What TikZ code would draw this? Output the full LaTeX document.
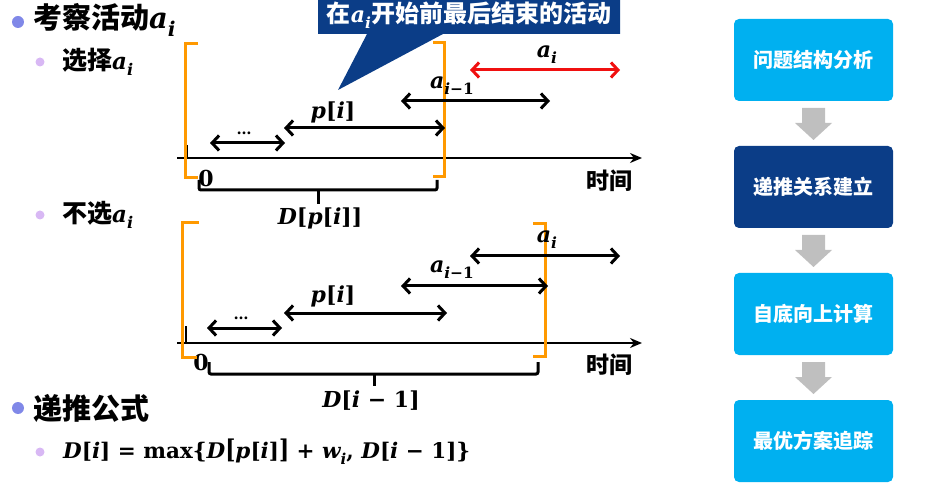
\documentclass[tikz,border=0pt]{standalone}
\usepackage{fontspec}
\newfontfamily\cjk{Noto Sans CJK SC}
\newfontfamily\mth{DejaVu Serif}
\newcommand{\mv}[1]{{\mth\bfseries\itshape #1}}
\newcommand{\mr}[1]{{\mth\bfseries #1}}
\newcommand{\sbs}[1]{\raisebox{-0.28em}{\scalebox{0.7}{#1}}}
\usetikzlibrary{arrows.meta}
\definecolor{bulA}{HTML}{8088E8}
\definecolor{bulB}{HTML}{D8B8F4}
\definecolor{orng}{HTML}{FF9900}
\definecolor{dblue}{HTML}{0B3D87}
\definecolor{lblue}{HTML}{00B0F0}
\definecolor{gry}{HTML}{BFBFBF}
\definecolor{redd}{HTML}{F01010}
\begin{document}
\begin{tikzpicture}[x=1pt,y=-1pt,
  bul/.style={circle,fill=bulA,inner sep=0pt,minimum size=12pt},
  subbul/.style={circle,fill=bulB,inner sep=0pt,minimum size=9pt},
  head/.style={anchor=west,inner sep=0pt,font=\fontsize{29}{32}\selectfont\cjk\bfseries},
  sub/.style={anchor=west,inner sep=0pt,font=\fontsize{25}{28}\selectfont\cjk\bfseries},
  lab/.style={inner sep=0pt,font=\fontsize{22}{25}\selectfont},
  ivl/.style={line width=3pt,{Straight Barb[length=7pt,width=15pt]}-{Straight Barb[length=7pt,width=15pt]}},
  axis/.style={line width=2.5pt,-{Stealth[length=12pt,width=10pt]}},
  obr/.style={draw=orng,line width=3pt},
  brc/.style={draw=black,line width=3pt,rounded corners=2pt},
  step box/.style={fill=#1,rounded corners=5pt,minimum width=159pt,minimum height=82pt,inner sep=0pt,
     text=white,font=\fontsize{20}{23}\selectfont\cjk\bfseries},
  garrow/.style={fill=gry}
]
\useasboundingbox (0,0) rectangle (943,497);

% ---- left texts
\node[bul] (b1) at (18,22) {};
\node[head] (t1) at (33,20) {考察活动\mv{a}\sbs{\mv{i}}};
\node[subbul] (s1) at (40,62) {};
\node[sub] (t2) at (62,62) {选择{\fontsize{23}{26}\selectfont\mv{a}\sbs{\mv{i}}}};
\node[subbul] (s2) at (40,215) {};
\node[sub] (t3) at (62,215) {不选{\fontsize{23}{26}\selectfont\mv{a}\sbs{\mv{i}}}};
\node[bul] (b2) at (18,408) {};
\node[head] (t4) at (33,408) {递推公式};
\node[subbul] (s3) at (40,452) {};
\node[anchor=west,inner sep=0pt,font=\fontsize{21.5}{25}\selectfont] (f1) at (63,452)
  {\mv{D}\mr{[}\mv{i}\mr{] = max\{}\mv{D}\scalebox{1}[1.2]{\mr{[}}\mv{p}\mr{[}\mv{i}\mr{]}\scalebox{1}[1.2]{\mr{]}}\mr{ + }\mv{w}\sbs{\mv{i}}\mr{, }\mv{D}\mr{[}\mv{i}\mr{ − 1]\}}};

% ---- callout
\path[fill=dblue] (318,-2) -- (620,-2) -- (620,34) -- (443,34) -- (338,90) -- (367,34) -- (318,34) -- cycle;
\node[inner sep=0pt,text=white,font=\fontsize{24}{28}\selectfont\cjk\bfseries] (call) at (469,15) {在{\fontsize{22}{26}\selectfont\mv{a}\sbs{\mv{i}}}开始前最后结束的活动};

% ---- timeline 1
\coordinate (ax1s) at (177,158); \coordinate (ax1e) at (642,158);
\draw[axis] (ax1s) -- (ax1e);
\coordinate (tk1a) at (187,145); \coordinate (tk1b) at (187,158);
\draw[line width=2.5pt] (tk1a) -- (tk1b);
\node[lab] (z1) at (206,178) {\mr{0}};
\node[inner sep=0pt,font=\fontsize{23}{26}\selectfont\cjk\bfseries] (time1) at (609,181) {时间};
\draw[obr] (198,44) -- (185,44) -- (185,178) -- (198,178);
\draw[obr] (433,43) -- (444,43) -- (444,177) -- (433,177);
\coordinate (d1a) at (210,143); \coordinate (d1b) at (285,143);
\draw[ivl] (d1a) -- (d1b);
\node[lab,font=\fontsize{15}{18}\selectfont] (dl1) at (244,133) {\mr{…}};
\coordinate (p1a) at (284,128); \coordinate (p1b) at (445,128);
\draw[ivl] (p1a) -- (p1b);
\node[lab] (pl1) at (333,112) {\mv{p}\mr{[}\mv{i}\mr{]}};
\coordinate (q1a) at (401,101); \coordinate (q1b) at (550,101);
\draw[ivl] (q1a) -- (q1b);
\node[lab] (ql1) at (452,86) {\mv{a}\sbs{\mv{i}\mr{−1}}};
\coordinate (r1a) at (470,70); \coordinate (r1b) at (620,70);
\draw[ivl,draw=redd] (r1a) -- (r1b);
\node[lab] (rl1) at (547,55) {\mv{a}\sbs{\mv{i}}};
\coordinate (br1a) at (199,180); \coordinate (br1b) at (437,180); \coordinate (br1c) at (318,190);
\draw[brc] (br1a) |- (br1c) -| (br1b);
\draw[line width=3pt] (br1c) -- ++(0,14);
\node[lab] (dp1) at (320,218) {\mv{D}\mr{[}\mv{p}\mr{[}\mv{i}\mr{]]}};

% ---- timeline 2
\coordinate (ax2s) at (177,343); \coordinate (ax2e) at (642,343);
\draw[axis] (ax2s) -- (ax2e);
\coordinate (tk2a) at (186,326); \coordinate (tk2b) at (186,343);
\draw[line width=2.5pt] (tk2a) -- (tk2b);
\node[lab] (z2) at (201,362) {\mr{0}};
\node[inner sep=0pt,font=\fontsize{23}{26}\selectfont\cjk\bfseries] (time2) at (609,365) {时间};
\draw[obr] (199,223) -- (182,223) -- (182,357) -- (197,357);
\draw[obr] (533,224) -- (545,224) -- (545,356) -- (533,356);
\coordinate (d2a) at (207,328); \coordinate (d2b) at (282,328);
\draw[ivl] (d2a) -- (d2b);
\node[lab,font=\fontsize{15}{18}\selectfont] (dl2) at (241,318) {\mr{…}};
\coordinate (p2a) at (284,313); \coordinate (p2b) at (447,313);
\draw[ivl] (p2a) -- (p2b);
\node[lab] (pl2) at (333,296) {\mv{p}\mr{[}\mv{i}\mr{]}};
\coordinate (q2a) at (401,286); \coordinate (q2b) at (548,286);
\draw[ivl] (q2a) -- (q2b);
\node[lab] (ql2) at (452,270) {\mv{a}\sbs{\mv{i}\mr{−1}}};
\coordinate (r2a) at (470,256); \coordinate (r2b) at (620,256);
\draw[ivl] (r2a) -- (r2b);
\node[lab] (rl2) at (547,240) {\mv{a}\sbs{\mv{i}}};
\coordinate (br2a) at (209,362); \coordinate (br2b) at (538,362); \coordinate (br2c) at (374,374);
\draw[brc] (br2a) |- (br2c) -| (br2b);
\draw[line width=3pt] (br2c) -- ++(0,12);
\node[lab] (dp2) at (371,401) {\mv{D}\mr{[}\mv{i}\mr{ − 1]}};

% ---- flow chart
\node[step box=lblue] (f1b) at (813.5,60) {问题结构分析};
\node[step box=dblue] (f2b) at (813.5,187) {递推关系建立};
\node[step box=lblue] (f3b) at (813.5,314) {自底向上计算};
\node[step box=lblue] (f4b) at (813.5,441) {最优方案追踪};
\foreach \y in {108,235,362}{
  \path[garrow] (802,\y) -- (825,\y) -- (825,\y+15) -- (832,\y+15) -- (813.5,\y+32) -- (795,\y+15) -- (802,\y+15) -- cycle;
}
\end{tikzpicture}
\end{document}
